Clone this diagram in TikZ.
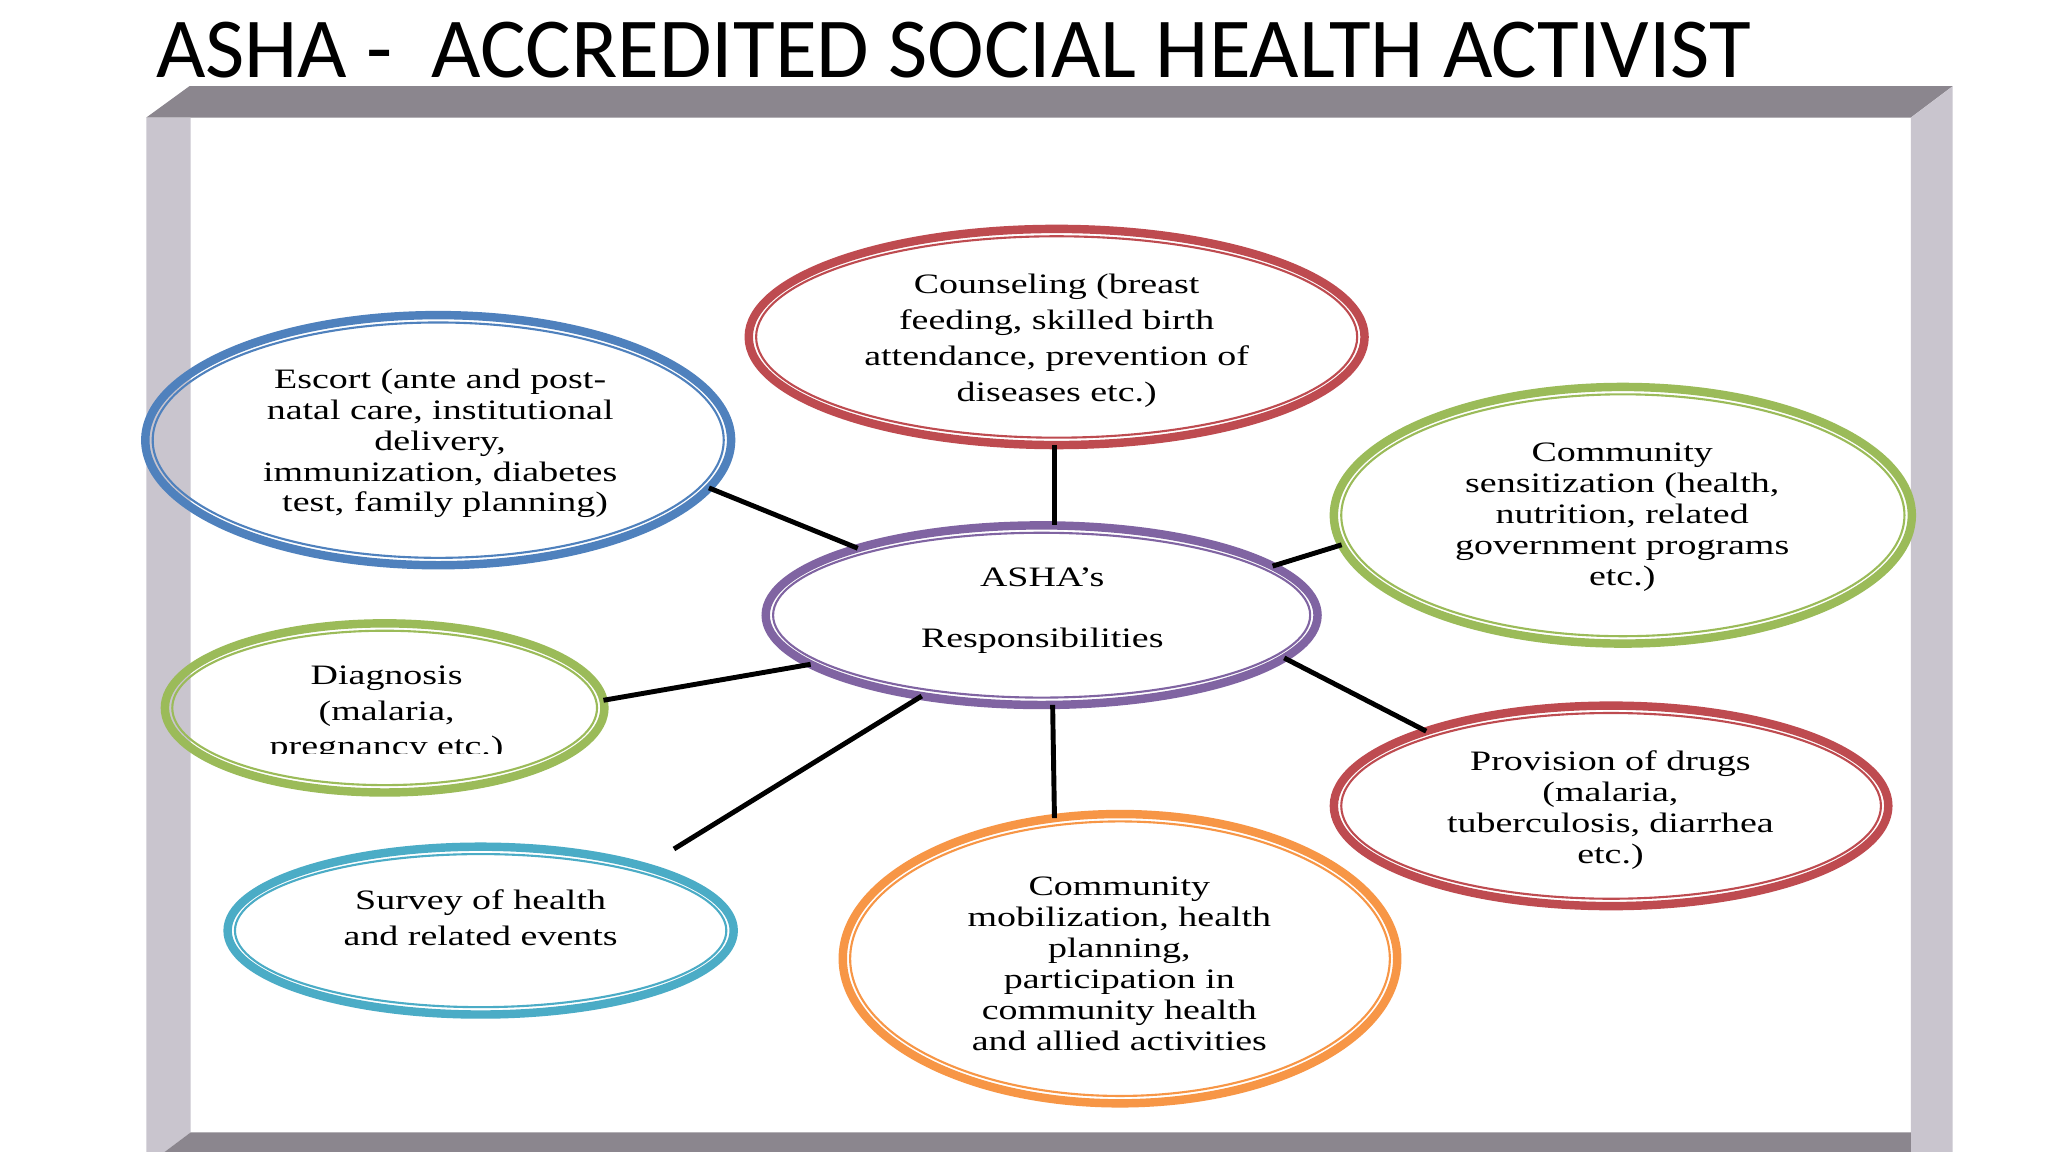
\documentclass[tikz,border=0pt]{standalone}
\usepackage{fontspec}
\setmainfont{Liberation Serif}
\newfontfamily\diagfont[FakeStretch=1.35]{Liberation Serif}
\newfontfamily\titlefont{Carlito}
\usetikzlibrary{shapes.geometric,calc}
\newlength\px
\setlength\px{0.01306cm}
\definecolor{cRed}{HTML}{BE4B50}
\definecolor{cBlue}{HTML}{4F81BD}
\definecolor{cGreen}{HTML}{9BBB59}
\definecolor{cPurple}{HTML}{8064A2}
\definecolor{cTeal}{HTML}{4BACC6}
\definecolor{cOrange}{HTML}{F79646}
\definecolor{frameDark}{HTML}{8B868E}
\definecolor{frameLight}{HTML}{C9C5CE}
\begin{document}
\begin{tikzpicture}[x=0.01306cm, y=-0.01306cm,
  bubble/.style={ellipse, draw=#1, line width=2.4pt, inner sep=0pt, outer sep=0pt,
    path picture={\draw[#1, line width=0.6pt]
      let \p1=(path picture bounding box.north east), \p2=(path picture bounding box.center)
      in (\p2) ellipse [x radius={\x1-\x2-2.1pt}, y radius={\y1-\y2-2.1pt}];}},
  txt/.style={align=center, inner sep=0pt, font=\diagfont\fontsize{8pt}{8.8pt}\selectfont},
  txtloose/.style={align=center, inner sep=0pt, font=\diagfont\fontsize{8pt}{10.2pt}\selectfont},
  link/.style={draw=black, line width=1.4pt}]

% page
\fill[white] (0,0) rectangle (1568,882);

% title
\node[anchor=base west, inner sep=0pt, font=\titlefont\fontsize{24.3pt}{29pt}\selectfont] (title) at (119,59) {ASHA -\ \ ACCREDITED SOCIAL HEALTH ACTIVIST};

% frame
\fill[frameDark] (112,90) -- (145,66) -- (1495,66) -- (1463,90) -- cycle;
\fill[frameLight] (112,90) -- (146,90) -- (146,867) -- (126,882) -- (112,882) -- cycle;
\fill[frameLight] (1463,90) -- (1495,66) -- (1495,882) -- (1463,882) -- cycle;
\fill[frameDark] (146,867) -- (1463,867) -- (1463,882) -- (126,882) -- cycle;

% ellipses
\node[bubble=cRed, minimum width={471.5*\px}, minimum height={165.5*\px}] (counsel) at (809,258) {};
\node[bubble=cBlue, minimum width={448.5*\px}, minimum height={191.5*\px}] (escort) at (335.5,337) {};
\node[bubble=cGreen, minimum width={442.5*\px}, minimum height={196.5*\px}] (commsens) at (1242.5,394.5) {};
\node[bubble=cPurple, minimum width={422.5*\px}, minimum height={137.5*\px}] (asha) at (797.5,471) {};
\node[bubble=cGreen, minimum width={336.5*\px}, minimum height={129.5*\px}] (diag) at (294.5,542) {};
\node[bubble=cRed, minimum width={424.5*\px}, minimum height={153.5*\px}] (prov) at (1233.5,617) {};
\node[bubble=cTeal, minimum width={387.5*\px}, minimum height={128.5*\px}] (survey) at (368,712.5) {};
\node[bubble=cOrange, minimum width={424.5*\px}, minimum height={221.5*\px}] (mobil) at (857.5,734) {};

% texts
\node[txtloose] (counselT) at (809,261) {Counseling (breast\\feeding, skilled birth\\attendance, prevention of\\diseases etc.)};
\node[txt] (escortT) at (337,339.5) {Escort (ante and post-\\natal care, institutional\\delivery,\\immunization, diabetes\\\hspace*{0.35em}test, family planning)};
\node[txt] (commsensT) at (1242,396) {Community\\sensitization (health,\\nutrition, related\\government programs\\etc.)};
\node[align=center, inner sep=0pt, font=\diagfont\fontsize{8pt}{17.5pt}\selectfont] (ashaT) at (798,467.5) {ASHA’s\\Responsibilities};
\begin{scope}
  \clip (100,470) rectangle (480,577);
  \node[txtloose] (diagT) at (296,546.5) {Diagnosis\\(malaria,\\pregnancy etc.)};
\end{scope}
\node[txt] (provT) at (1233,620.5) {Provision of drugs\\(malaria,\\tuberculosis, diarrhea\\etc.)};
\node[txtloose] (surveyT) at (368,702.5) {Survey of health\\and related events};
\node[txt] (mobilT) at (857,738) {Community\\mobilization, health\\planning,\\participation in\\community health\\and allied activities};

% connectors
\draw[link] (counsel.-91) -- (counsel.-91 |- asha.north);
\draw[link] (escort.-10) -- (asha.160);
\draw[link] (commsens.186) -- (asha.12);
\draw[link] (diag.2) -- (asha.192);
\draw[link] (asha.-10) -- (prov.158);
\coordinate (surveyEnd) at (516,650);
\draw[link] (asha.214) -- (surveyEnd);
\draw[link] (asha.-83) -- (mobil.115);
\end{tikzpicture}
\end{document}
